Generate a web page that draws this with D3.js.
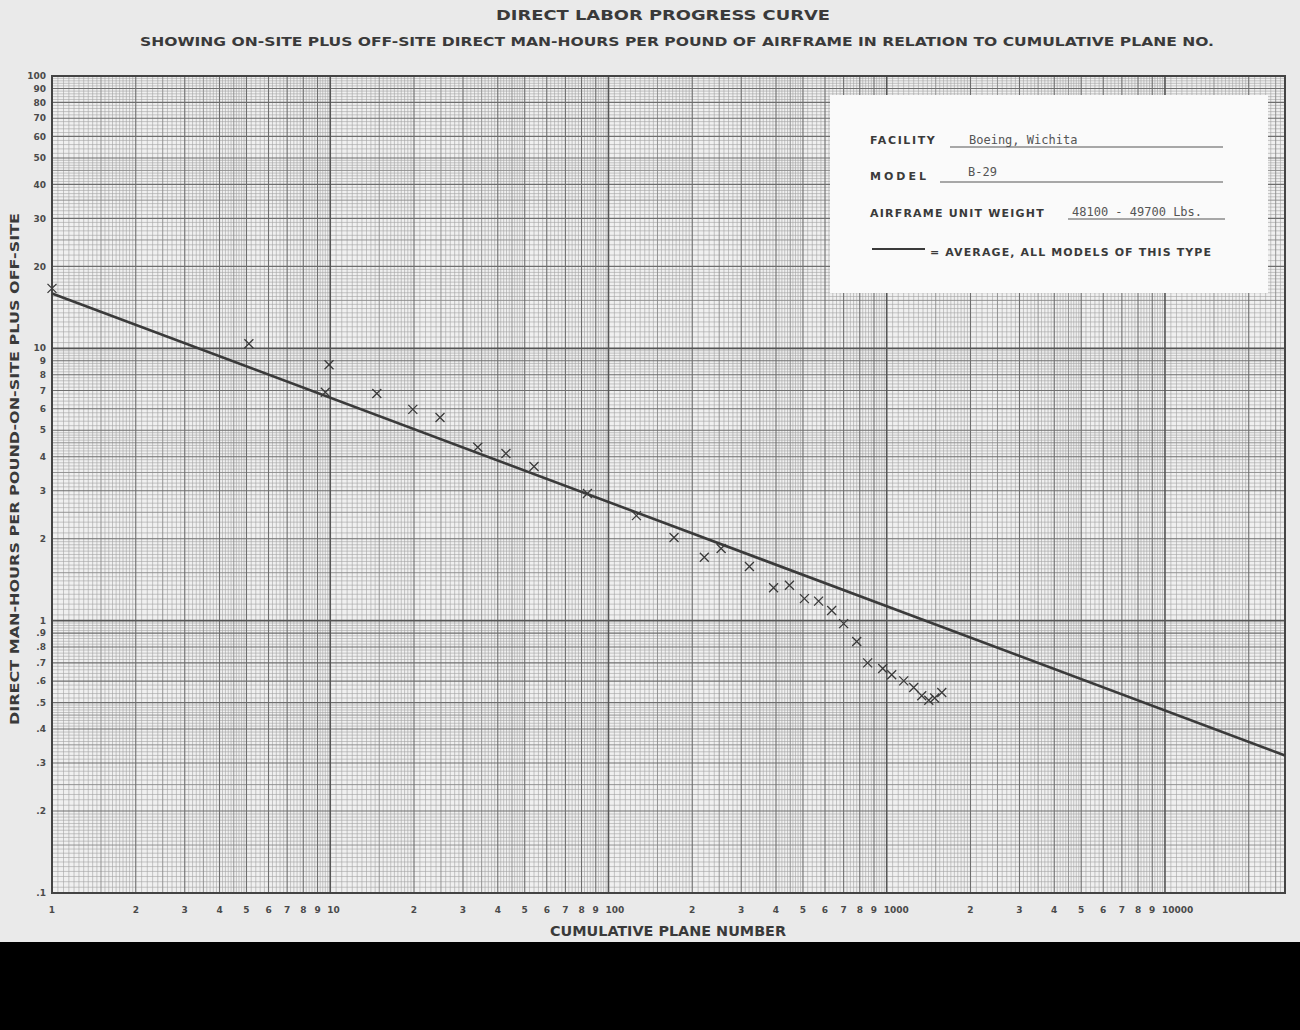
<!DOCTYPE html>
<html>
<head>
<meta charset="utf-8">
<script src="https://cdn.jsdelivr.net/npm/d3@7"></script>
<style>
  html, body { margin: 0; padding: 0; background: #e8e8e8; }
  svg { display: block; }
</style>
</head>
<body>
<svg id="chart" width="1300" height="1030"></svg>
<script>
// ---------- data ----------
const titleText = "DIRECT LABOR PROGRESS CURVE";
const subtitleText = "SHOWING ON-SITE PLUS OFF-SITE DIRECT MAN-HOURS PER POUND OF AIRFRAME IN RELATION TO CUMULATIVE PLANE NO.";
const xAxisTitle = "CUMULATIVE PLANE NUMBER";
const yAxisTitle = "DIRECT  MAN-HOURS  PER  POUND-ON-SITE  PLUS  OFF-SITE";

// cumulative plane number of each plotted point
const planeNumbers = [1, 5.1, 9.6, 9.9, 14.7, 19.8, 24.8, 33.9, 42.8, 54, 84, 126,
  172, 221, 254, 321, 392, 447, 506, 569, 634, 700, 780, 854, 967, 1042, 1151, 1250, 1336, 1416, 1487, 1577];
// man-hours per pound for each point
const manHours = [16.6, 10.4, 6.9, 8.7, 6.83, 5.97, 5.57, 4.33, 4.11, 3.68, 2.93, 2.43,
  2.02, 1.71, 1.84, 1.58, 1.32, 1.35, 1.205, 1.18, 1.09, 0.975, 0.838, 0.70, 0.667, 0.633, 0.601, 0.568, 0.53, 0.51, 0.52, 0.545];

// average line, all models of this type
const avgPlanes = [1, 27000];
const avgValues = [15.9, 0.32];

// axis ranges
const xDomain = [1, 27000];
const yDomain = [0.1, 100];

// tick labels
const xTickValues = [1,2,3,4,5,6,7,8,9,10,20,30,40,50,60,70,80,90,100,200,300,400,500,600,700,800,900,1000,2000,3000,4000,5000,6000,7000,8000,9000,10000];
const xTickLabels = ["1","2","3","4","5","6","7","8","9","10","2","3","4","5","6","7","8","9","100","2","3","4","5","6","7","8","9","1000","2","3","4","5","6","7","8","9","10000"];
const yTickValues = [100,90,80,70,60,50,40,30,20,10,9,8,7,6,5,4,3,2,1,0.9,0.8,0.7,0.6,0.5,0.4,0.3,0.2,0.1];
const yTickLabels = ["100","90","80","70","60","50","40","30","20","10","9","8","7","6","5","4","3","2","1",".9",".8",".7",".6",".5",".4",".3",".2",".1"];

// legend box texts
const legendFacility = "Boeing, Wichita";
const legendModel = "B-29";
const legendWeight = "48100 - 49700 Lbs.";
const legendLineText = "= AVERAGE, ALL MODELS OF THIS TYPE";

// ---------- drawing ----------
const svg = d3.select("#chart");
const L = 52, R = 1285, T = 76, B = 893;
const x = d3.scaleLog().domain(xDomain).range([L, R]);
const y = d3.scaleLog().domain(yDomain).range([B, T]);

const condensed = "'DejaVu Sans Condensed', 'DejaVu Sans', sans-serif";
const bold = "'DejaVu Sans', 'Liberation Sans', sans-serif";
const mono = "'DejaVu Sans Mono', 'Liberation Mono', monospace";

// page
svg.append("rect").attr("width", 1300).attr("height", 1030).attr("fill", "#eaeaea");
svg.append("rect").attr("x", 0).attr("y", 942).attr("width", 1300).attr("height", 88).attr("fill", "#000");

// plot paper
svg.append("rect").attr("x", L).attr("y", T).attr("width", R - L).attr("height", B - T).attr("fill", "#f0f0f0");

// graph paper rulings per decade
function rulings(lo, hi) {
  const minor = [], mid = [], major = [];
  for (let p = Math.floor(Math.log10(lo)); p <= Math.ceil(Math.log10(hi)); p++) {
    const d = Math.pow(10, p);
    for (let k = 1; k < 20; k++) { if (k !== 10) minor.push(+((1 + k * 0.05) * d).toPrecision(6)); }
    for (let k = 1; k < 30; k++) { if (k % 5 !== 0) minor.push(+((2 + k * 0.1) * d).toPrecision(6)); }
    for (let k = 1; k < 25; k++) { if (k % 5 !== 0) minor.push(+((5 + k * 0.2) * d).toPrecision(6)); }
    [1.5, 2.5, 3.5, 4.5].forEach(m => mid.push(m * d));
    for (let m = 1; m <= 9; m++) major.push(m * d);
  }
  const inR = v => v >= lo * 0.9999 && v <= hi * 1.0001;
  return { minor: minor.filter(inR), mid: mid.filter(inR), major: major.filter(inR) };
}
const gx = rulings(xDomain[0], xDomain[1]);
const gy = rulings(yDomain[0], yDomain[1]);
const isDecade = v => Math.abs(Math.log10(v) - Math.round(Math.log10(v))) < 1e-9;

const grid = svg.append("g");
function vlines(data, color, w) {
  grid.append("g").selectAll("line").data(data).join("line")
    .attr("x1", d => x(d)).attr("x2", d => x(d)).attr("y1", T).attr("y2", B)
    .attr("stroke", color).attr("stroke-width", w);
}
function hlines(data, color, w) {
  grid.append("g").selectAll("line").data(data).join("line")
    .attr("y1", d => y(d)).attr("y2", d => y(d)).attr("x1", L).attr("x2", R)
    .attr("stroke", color).attr("stroke-width", w);
}
vlines(gx.minor, "#a2a2a2", 0.6);
hlines(gy.minor, "#a2a2a2", 0.6);
vlines(gx.mid, "#8a8a8a", 0.9);
hlines(gy.mid, "#8a8a8a", 0.9);
vlines(gx.major.filter(d => !isDecade(d)), "#6e6e6e", 1.1);
hlines(gy.major.filter(d => !isDecade(d)), "#6e6e6e", 1.1);
vlines(gx.major.filter(isDecade), "#555", 1.6);
hlines(gy.major.filter(isDecade), "#555", 1.6);

// frame
svg.append("rect").attr("x", L).attr("y", T).attr("width", R - L).attr("height", B - T)
  .attr("fill", "none").attr("stroke", "#444").attr("stroke-width", 2);

// legend box
const lg = svg.append("g");
lg.append("rect").attr("x", 830).attr("y", 95).attr("width", 438).attr("height", 198).attr("fill", "#fafafa");
const lblStyle = sel => sel.attr("font-family", bold).attr("font-weight", "bold").attr("font-size", 11)
  .attr("letter-spacing", 1.6).attr("fill", "#3a3a3a");
lg.append("text").call(lblStyle).attr("x", 870).attr("y", 144).text("FACILITY");
lg.append("line").attr("x1", 950).attr("x2", 1223).attr("y1", 147).attr("y2", 147).attr("stroke", "#555").attr("stroke-width", 1);
lg.append("text").attr("x", 969).attr("y", 144).attr("font-family", mono).attr("font-size", 12).attr("fill", "#555").text(legendFacility);
lg.append("text").call(lblStyle).attr("x", 870).attr("y", 180).attr("letter-spacing", 3).text("MODEL");
lg.append("line").attr("x1", 940).attr("x2", 1223).attr("y1", 182).attr("y2", 182).attr("stroke", "#555").attr("stroke-width", 1);
lg.append("text").attr("x", 968).attr("y", 176).attr("font-family", mono).attr("font-size", 12).attr("fill", "#555").text(legendModel);
lg.append("text").call(lblStyle).attr("x", 870).attr("y", 217).attr("letter-spacing", 1.2).text("AIRFRAME UNIT WEIGHT");
lg.append("line").attr("x1", 1068).attr("x2", 1225).attr("y1", 219).attr("y2", 219).attr("stroke", "#555").attr("stroke-width", 1);
lg.append("text").attr("x", 1072).attr("y", 216).attr("font-family", mono).attr("font-size", 12).attr("fill", "#555").text(legendWeight);
lg.append("line").attr("x1", 872).attr("x2", 925).attr("y1", 249).attr("y2", 249).attr("stroke", "#3a3a3a").attr("stroke-width", 2);
lg.append("text").call(lblStyle).attr("x", 930).attr("y", 256).attr("letter-spacing", 1.1).text(legendLineText);

// average line
const avgData = avgPlanes.map((n, i) => ({ n, v: avgValues[i] }));
svg.append("path").datum(avgData)
  .attr("d", d3.line().x(d => x(d.n)).y(d => y(d.v)))
  .attr("fill", "none").attr("stroke", "#3a3a3a").attr("stroke-width", 2.6);

// points (x marks)
const pts = planeNumbers.map((n, i) => ({ n, v: manHours[i] }));
const s = 4.5;
svg.append("g").selectAll("path").data(pts).join("path")
  .attr("d", d => {
    const cx = x(d.n), cy = y(d.v);
    return `M${cx - s},${cy - s}L${cx + s},${cy + s}M${cx - s},${cy + s}L${cx + s},${cy - s}`;
  })
  .attr("stroke", "#3a3a3a").attr("stroke-width", 1.3).attr("fill", "none");

// x tick labels
const bigTick = d => d === 10000 || d === 1000 || d === 100 || d === 10;
svg.append("g").selectAll("text").data(xTickValues).join("text")
  .attr("x", d => x(d)).attr("y", 913)
  .attr("text-anchor", d => bigTick(d) ? "start" : "middle")
  .attr("dx", d => bigTick(d) ? -3 : 0)
  .attr("font-family", bold).attr("font-weight", "bold").attr("font-size", 9).attr("fill", "#4a4a4a")
  .text((d, i) => xTickLabels[i]);

// y tick labels
svg.append("g").selectAll("text").data(yTickValues).join("text")
  .attr("x", 46).attr("y", d => y(d)).attr("dy", "0.35em")
  .attr("text-anchor", "end")
  .attr("font-family", bold).attr("font-weight", "bold").attr("font-size", 9).attr("fill", "#4a4a4a")
  .text((d, i) => yTickLabels[i]);

// titles
svg.append("text").attr("x", 663).attr("y", 20).attr("text-anchor", "middle")
  .attr("font-family", condensed).attr("font-weight", "bold").attr("font-size", 14).attr("fill", "#3a3a3a")
  .attr("textLength", 334).attr("lengthAdjust", "spacingAndGlyphs").text(titleText);
svg.append("text").attr("x", 677).attr("y", 46).attr("text-anchor", "middle")
  .attr("font-family", condensed).attr("font-weight", "bold").attr("font-size", 12.5).attr("fill", "#3a3a3a")
  .attr("textLength", 1074).attr("lengthAdjust", "spacingAndGlyphs").text(subtitleText);
svg.append("text").attr("x", 668).attr("y", 936).attr("text-anchor", "middle")
  .attr("font-family", condensed).attr("font-weight", "bold").attr("font-size", 14).attr("fill", "#3a3a3a")
  .attr("textLength", 236).attr("lengthAdjust", "spacingAndGlyphs").text(xAxisTitle);
svg.append("text").attr("transform", "translate(19,469) rotate(-90)").attr("text-anchor", "middle")
  .attr("font-family", bold).attr("font-weight", "bold").attr("font-size", 13).attr("fill", "#3a3a3a")
  .attr("textLength", 512).attr("lengthAdjust", "spacingAndGlyphs").text(yAxisTitle);
</script>
</body>
</html>
